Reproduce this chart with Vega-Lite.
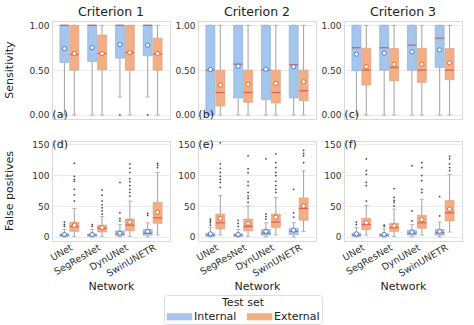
{
  "$schema": "https://vega.github.io/schema/vega-lite/v6.json",
  "padding": {"left": 3, "top": 5, "right": 5, "bottom": 3},
  "datasets": {
    "d": [
      {"kind":"box","metric":"Sensitivity","criterion":"Criterion 1","network":"UNet","test":"Internal","lo":0,"q1":0.585,"median":1,"q3":1,"hi":1,"mean":0.74},
      {"kind":"box","metric":"Sensitivity","criterion":"Criterion 1","network":"UNet","test":"External","lo":0,"q1":0.5,"median":0.674,"q3":1,"hi":1,"mean":0.685},
      {"kind":"box","metric":"Sensitivity","criterion":"Criterion 1","network":"SegResNet","test":"Internal","lo":0,"q1":0.596,"median":1,"q3":1,"hi":1,"mean":0.75},
      {"kind":"box","metric":"Sensitivity","criterion":"Criterion 1","network":"SegResNet","test":"External","lo":0,"q1":0.504,"median":0.685,"q3":0.893,"hi":1,"mean":0.685},
      {"kind":"box","metric":"Sensitivity","criterion":"Criterion 1","network":"DynUNet","test":"Internal","lo":0.2,"q1":0.633,"median":1,"q3":1,"hi":1,"mean":0.785},
      {"kind":"box","metric":"Sensitivity","criterion":"Criterion 1","network":"DynUNet","test":"External","lo":0,"q1":0.5,"median":0.696,"q3":1,"hi":1,"mean":0.696},
      {"kind":"box","metric":"Sensitivity","criterion":"Criterion 1","network":"SwinUNETR","test":"Internal","lo":0.2,"q1":0.66,"median":1,"q3":1,"hi":1,"mean":0.778},
      {"kind":"box","metric":"Sensitivity","criterion":"Criterion 1","network":"SwinUNETR","test":"External","lo":0,"q1":0.5,"median":0.678,"q3":0.856,"hi":1,"mean":0.685},
      {"kind":"box","metric":"Sensitivity","criterion":"Criterion 2","network":"UNet","test":"Internal","lo":0,"q1":0,"median":0.5,"q3":1,"hi":1,"mean":0.507},
      {"kind":"box","metric":"Sensitivity","criterion":"Criterion 2","network":"UNet","test":"External","lo":0,"q1":0.1,"median":0.25,"q3":0.5,"hi":1,"mean":0.333},
      {"kind":"box","metric":"Sensitivity","criterion":"Criterion 2","network":"SegResNet","test":"Internal","lo":0,"q1":0.19,"median":0.567,"q3":1,"hi":1,"mean":0.544},
      {"kind":"box","metric":"Sensitivity","criterion":"Criterion 2","network":"SegResNet","test":"External","lo":0,"q1":0.141,"median":0.25,"q3":0.5,"hi":1,"mean":0.344},
      {"kind":"box","metric":"Sensitivity","criterion":"Criterion 2","network":"DynUNet","test":"Internal","lo":0,"q1":0.17,"median":0.5,"q3":1,"hi":1,"mean":0.51},
      {"kind":"box","metric":"Sensitivity","criterion":"Criterion 2","network":"DynUNet","test":"External","lo":0,"q1":0.133,"median":0.25,"q3":0.5,"hi":1,"mean":0.352},
      {"kind":"box","metric":"Sensitivity","criterion":"Criterion 2","network":"SwinUNETR","test":"Internal","lo":0,"q1":0.19,"median":0.56,"q3":1,"hi":1,"mean":0.537},
      {"kind":"box","metric":"Sensitivity","criterion":"Criterion 2","network":"SwinUNETR","test":"External","lo":0,"q1":0.16,"median":0.27,"q3":0.5,"hi":1,"mean":0.37},
      {"kind":"box","metric":"Sensitivity","criterion":"Criterion 3","network":"UNet","test":"Internal","lo":0,"q1":0.493,"median":0.75,"q3":1,"hi":1,"mean":0.678},
      {"kind":"box","metric":"Sensitivity","criterion":"Criterion 3","network":"UNet","test":"External","lo":0,"q1":0.333,"median":0.5,"q3":0.744,"hi":1,"mean":0.54},
      {"kind":"box","metric":"Sensitivity","criterion":"Criterion 3","network":"SegResNet","test":"Internal","lo":0,"q1":0.5,"median":0.75,"q3":1,"hi":1,"mean":0.689},
      {"kind":"box","metric":"Sensitivity","criterion":"Criterion 3","network":"SegResNet","test":"External","lo":0,"q1":0.381,"median":0.53,"q3":0.74,"hi":1,"mean":0.567},
      {"kind":"box","metric":"Sensitivity","criterion":"Criterion 3","network":"DynUNet","test":"Internal","lo":0,"q1":0.5,"median":0.778,"q3":1,"hi":1,"mean":0.704},
      {"kind":"box","metric":"Sensitivity","criterion":"Criterion 3","network":"DynUNet","test":"External","lo":0,"q1":0.363,"median":0.5,"q3":0.744,"hi":1,"mean":0.567},
      {"kind":"box","metric":"Sensitivity","criterion":"Criterion 3","network":"SwinUNETR","test":"Internal","lo":0,"q1":0.53,"median":0.856,"q3":1,"hi":1,"mean":0.726},
      {"kind":"box","metric":"Sensitivity","criterion":"Criterion 3","network":"SwinUNETR","test":"External","lo":0,"q1":0.393,"median":0.5,"q3":0.74,"hi":1,"mean":0.581},
      {"kind":"out","metric":"Sensitivity","criterion":"Criterion 1","network":"DynUNet","test":"Internal","value":0},
      {"kind":"out","metric":"Sensitivity","criterion":"Criterion 1","network":"SwinUNETR","test":"Internal","value":0},

      {"kind":"box","metric":"False positives","criterion":"Criterion 1","network":"UNet","test":"Internal","lo":0,"q1":1,"median":3,"q3":5,"hi":12,"mean":4},
      {"kind":"box","metric":"False positives","criterion":"Criterion 1","network":"UNet","test":"External","lo":1,"q1":9,"median":17,"q3":24,"hi":46,"mean":19},
      {"kind":"box","metric":"False positives","criterion":"Criterion 1","network":"SegResNet","test":"Internal","lo":0,"q1":1,"median":3,"q3":5,"hi":12,"mean":4},
      {"kind":"box","metric":"False positives","criterion":"Criterion 1","network":"SegResNet","test":"External","lo":1,"q1":8,"median":14,"q3":19,"hi":33,"mean":15},
      {"kind":"box","metric":"False positives","criterion":"Criterion 1","network":"DynUNet","test":"Internal","lo":0,"q1":2,"median":5,"q3":10,"hi":20,"mean":6},
      {"kind":"box","metric":"False positives","criterion":"Criterion 1","network":"DynUNet","test":"External","lo":1,"q1":10,"median":19,"q3":29,"hi":58,"mean":24},
      {"kind":"box","metric":"False positives","criterion":"Criterion 1","network":"SwinUNETR","test":"Internal","lo":0,"q1":3,"median":6,"q3":12,"hi":23,"mean":9},
      {"kind":"box","metric":"False positives","criterion":"Criterion 1","network":"SwinUNETR","test":"External","lo":3,"q1":22,"median":31,"q3":56,"hi":104,"mean":40},
      {"kind":"box","metric":"False positives","criterion":"Criterion 2","network":"UNet","test":"Internal","lo":0,"q1":1,"median":3,"q3":6,"hi":15,"mean":5},
      {"kind":"box","metric":"False positives","criterion":"Criterion 2","network":"UNet","test":"External","lo":3,"q1":13,"median":23,"q3":37,"hi":67,"mean":30},
      {"kind":"box","metric":"False positives","criterion":"Criterion 2","network":"SegResNet","test":"Internal","lo":0,"q1":1,"median":3,"q3":5,"hi":12,"mean":4},
      {"kind":"box","metric":"False positives","criterion":"Criterion 2","network":"SegResNet","test":"External","lo":1,"q1":10,"median":17,"q3":29,"hi":50,"mean":22},
      {"kind":"box","metric":"False positives","criterion":"Criterion 2","network":"DynUNet","test":"Internal","lo":0,"q1":3,"median":6,"q3":12,"hi":23,"mean":9},
      {"kind":"box","metric":"False positives","criterion":"Criterion 2","network":"DynUNet","test":"External","lo":3,"q1":15,"median":24,"q3":37,"hi":64,"mean":32},
      {"kind":"box","metric":"False positives","criterion":"Criterion 2","network":"SwinUNETR","test":"Internal","lo":0,"q1":4,"median":9,"q3":14,"hi":23,"mean":11},
      {"kind":"box","metric":"False positives","criterion":"Criterion 2","network":"SwinUNETR","test":"External","lo":9,"q1":27,"median":46,"q3":63,"hi":107,"mean":50},
      {"kind":"box","metric":"False positives","criterion":"Criterion 3","network":"UNet","test":"Internal","lo":0,"q1":1,"median":3,"q3":6,"hi":15,"mean":5},
      {"kind":"box","metric":"False positives","criterion":"Criterion 3","network":"UNet","test":"External","lo":3,"q1":12,"median":20,"q3":30,"hi":51,"mean":23},
      {"kind":"box","metric":"False positives","criterion":"Criterion 3","network":"SegResNet","test":"Internal","lo":0,"q1":1,"median":3,"q3":5,"hi":13,"mean":4},
      {"kind":"box","metric":"False positives","criterion":"Criterion 3","network":"SegResNet","test":"External","lo":1,"q1":9,"median":15,"q3":22,"hi":45,"mean":18},
      {"kind":"box","metric":"False positives","criterion":"Criterion 3","network":"DynUNet","test":"Internal","lo":0,"q1":3,"median":6,"q3":11,"hi":20,"mean":8},
      {"kind":"box","metric":"False positives","criterion":"Criterion 3","network":"DynUNet","test":"External","lo":3,"q1":14,"median":23,"q3":35,"hi":61,"mean":28},
      {"kind":"box","metric":"False positives","criterion":"Criterion 3","network":"SwinUNETR","test":"Internal","lo":0,"q1":3,"median":7,"q3":12,"hi":24,"mean":9},
      {"kind":"box","metric":"False positives","criterion":"Criterion 3","network":"SwinUNETR","test":"External","lo":8,"q1":26,"median":39,"q3":59,"hi":101,"mean":45},

      {"kind":"out","metric":"False positives","criterion":"Criterion 1","network":"UNet","test":"Internal","value":17},
      {"kind":"out","metric":"False positives","criterion":"Criterion 1","network":"UNet","test":"Internal","value":20},
      {"kind":"out","metric":"False positives","criterion":"Criterion 1","network":"UNet","test":"Internal","value":24},
      {"kind":"out","metric":"False positives","criterion":"Criterion 1","network":"UNet","test":"External","value":58},
      {"kind":"out","metric":"False positives","criterion":"Criterion 1","network":"UNet","test":"External","value":68},
      {"kind":"out","metric":"False positives","criterion":"Criterion 1","network":"UNet","test":"External","value":77},
      {"kind":"out","metric":"False positives","criterion":"Criterion 1","network":"UNet","test":"External","value":90},
      {"kind":"out","metric":"False positives","criterion":"Criterion 1","network":"UNet","test":"External","value":93},
      {"kind":"out","metric":"False positives","criterion":"Criterion 1","network":"UNet","test":"External","value":98},
      {"kind":"out","metric":"False positives","criterion":"Criterion 1","network":"UNet","test":"External","value":119},
      {"kind":"out","metric":"False positives","criterion":"Criterion 1","network":"SegResNet","test":"Internal","value":17},
      {"kind":"out","metric":"False positives","criterion":"Criterion 1","network":"SegResNet","test":"Internal","value":20},
      {"kind":"out","metric":"False positives","criterion":"Criterion 1","network":"SegResNet","test":"External","value":37},
      {"kind":"out","metric":"False positives","criterion":"Criterion 1","network":"SegResNet","test":"External","value":42},
      {"kind":"out","metric":"False positives","criterion":"Criterion 1","network":"SegResNet","test":"External","value":47},
      {"kind":"out","metric":"False positives","criterion":"Criterion 1","network":"SegResNet","test":"External","value":52},
      {"kind":"out","metric":"False positives","criterion":"Criterion 1","network":"SegResNet","test":"External","value":58},
      {"kind":"out","metric":"False positives","criterion":"Criterion 1","network":"SegResNet","test":"External","value":67},
      {"kind":"out","metric":"False positives","criterion":"Criterion 1","network":"SegResNet","test":"External","value":76},
      {"kind":"out","metric":"False positives","criterion":"Criterion 1","network":"DynUNet","test":"Internal","value":26},
      {"kind":"out","metric":"False positives","criterion":"Criterion 1","network":"DynUNet","test":"Internal","value":30},
      {"kind":"out","metric":"False positives","criterion":"Criterion 1","network":"DynUNet","test":"Internal","value":39},
      {"kind":"out","metric":"False positives","criterion":"Criterion 1","network":"DynUNet","test":"Internal","value":88},
      {"kind":"out","metric":"False positives","criterion":"Criterion 1","network":"DynUNet","test":"External","value":66},
      {"kind":"out","metric":"False positives","criterion":"Criterion 1","network":"DynUNet","test":"External","value":72},
      {"kind":"out","metric":"False positives","criterion":"Criterion 1","network":"DynUNet","test":"External","value":77},
      {"kind":"out","metric":"False positives","criterion":"Criterion 1","network":"DynUNet","test":"External","value":83},
      {"kind":"out","metric":"False positives","criterion":"Criterion 1","network":"DynUNet","test":"External","value":89},
      {"kind":"out","metric":"False positives","criterion":"Criterion 1","network":"DynUNet","test":"External","value":94},
      {"kind":"out","metric":"False positives","criterion":"Criterion 1","network":"DynUNet","test":"External","value":104},
      {"kind":"out","metric":"False positives","criterion":"Criterion 1","network":"DynUNet","test":"External","value":111},
      {"kind":"out","metric":"False positives","criterion":"Criterion 1","network":"DynUNet","test":"External","value":118},
      {"kind":"out","metric":"False positives","criterion":"Criterion 1","network":"SwinUNETR","test":"Internal","value":35},
      {"kind":"out","metric":"False positives","criterion":"Criterion 1","network":"SwinUNETR","test":"Internal","value":38},
      {"kind":"out","metric":"False positives","criterion":"Criterion 1","network":"SwinUNETR","test":"External","value":112},
      {"kind":"out","metric":"False positives","criterion":"Criterion 1","network":"SwinUNETR","test":"External","value":116},
      {"kind":"out","metric":"False positives","criterion":"Criterion 1","network":"SwinUNETR","test":"External","value":119},

      {"kind":"out","metric":"False positives","criterion":"Criterion 2","network":"UNet","test":"Internal","value":19},
      {"kind":"out","metric":"False positives","criterion":"Criterion 2","network":"UNet","test":"Internal","value":23},
      {"kind":"out","metric":"False positives","criterion":"Criterion 2","network":"UNet","test":"Internal","value":26},
      {"kind":"out","metric":"False positives","criterion":"Criterion 2","network":"UNet","test":"Internal","value":29},
      {"kind":"out","metric":"False positives","criterion":"Criterion 2","network":"UNet","test":"External","value":80},
      {"kind":"out","metric":"False positives","criterion":"Criterion 2","network":"UNet","test":"External","value":88},
      {"kind":"out","metric":"False positives","criterion":"Criterion 2","network":"UNet","test":"External","value":93},
      {"kind":"out","metric":"False positives","criterion":"Criterion 2","network":"UNet","test":"External","value":98},
      {"kind":"out","metric":"False positives","criterion":"Criterion 2","network":"UNet","test":"External","value":104},
      {"kind":"out","metric":"False positives","criterion":"Criterion 2","network":"UNet","test":"External","value":111},
      {"kind":"out","metric":"False positives","criterion":"Criterion 2","network":"UNet","test":"External","value":118},
      {"kind":"out","metric":"False positives","criterion":"Criterion 2","network":"UNet","test":"External","value":152},
      {"kind":"out","metric":"False positives","criterion":"Criterion 2","network":"SegResNet","test":"Internal","value":17},
      {"kind":"out","metric":"False positives","criterion":"Criterion 2","network":"SegResNet","test":"Internal","value":22},
      {"kind":"out","metric":"False positives","criterion":"Criterion 2","network":"SegResNet","test":"Internal","value":27},
      {"kind":"out","metric":"False positives","criterion":"Criterion 2","network":"SegResNet","test":"External","value":56},
      {"kind":"out","metric":"False positives","criterion":"Criterion 2","network":"SegResNet","test":"External","value":62},
      {"kind":"out","metric":"False positives","criterion":"Criterion 2","network":"SegResNet","test":"External","value":66},
      {"kind":"out","metric":"False positives","criterion":"Criterion 2","network":"SegResNet","test":"External","value":72},
      {"kind":"out","metric":"False positives","criterion":"Criterion 2","network":"SegResNet","test":"External","value":83},
      {"kind":"out","metric":"False positives","criterion":"Criterion 2","network":"SegResNet","test":"External","value":89},
      {"kind":"out","metric":"False positives","criterion":"Criterion 2","network":"SegResNet","test":"External","value":104},
      {"kind":"out","metric":"False positives","criterion":"Criterion 2","network":"SegResNet","test":"External","value":110},
      {"kind":"out","metric":"False positives","criterion":"Criterion 2","network":"SegResNet","test":"External","value":131},
      {"kind":"out","metric":"False positives","criterion":"Criterion 2","network":"DynUNet","test":"Internal","value":29},
      {"kind":"out","metric":"False positives","criterion":"Criterion 2","network":"DynUNet","test":"Internal","value":33},
      {"kind":"out","metric":"False positives","criterion":"Criterion 2","network":"DynUNet","test":"Internal","value":37},
      {"kind":"out","metric":"False positives","criterion":"Criterion 2","network":"DynUNet","test":"Internal","value":126},
      {"kind":"out","metric":"False positives","criterion":"Criterion 2","network":"DynUNet","test":"External","value":72},
      {"kind":"out","metric":"False positives","criterion":"Criterion 2","network":"DynUNet","test":"External","value":77},
      {"kind":"out","metric":"False positives","criterion":"Criterion 2","network":"DynUNet","test":"External","value":83},
      {"kind":"out","metric":"False positives","criterion":"Criterion 2","network":"DynUNet","test":"External","value":90},
      {"kind":"out","metric":"False positives","criterion":"Criterion 2","network":"DynUNet","test":"External","value":99},
      {"kind":"out","metric":"False positives","criterion":"Criterion 2","network":"DynUNet","test":"External","value":104},
      {"kind":"out","metric":"False positives","criterion":"Criterion 2","network":"DynUNet","test":"External","value":112},
      {"kind":"out","metric":"False positives","criterion":"Criterion 2","network":"DynUNet","test":"External","value":120},
      {"kind":"out","metric":"False positives","criterion":"Criterion 2","network":"DynUNet","test":"External","value":134},
      {"kind":"out","metric":"False positives","criterion":"Criterion 2","network":"SwinUNETR","test":"Internal","value":32},
      {"kind":"out","metric":"False positives","criterion":"Criterion 2","network":"SwinUNETR","test":"Internal","value":39},
      {"kind":"out","metric":"False positives","criterion":"Criterion 2","network":"SwinUNETR","test":"Internal","value":77},
      {"kind":"out","metric":"False positives","criterion":"Criterion 2","network":"SwinUNETR","test":"External","value":120},
      {"kind":"out","metric":"False positives","criterion":"Criterion 2","network":"SwinUNETR","test":"External","value":131},
      {"kind":"out","metric":"False positives","criterion":"Criterion 2","network":"SwinUNETR","test":"External","value":135},
      {"kind":"out","metric":"False positives","criterion":"Criterion 2","network":"SwinUNETR","test":"External","value":140},

      {"kind":"out","metric":"False positives","criterion":"Criterion 3","network":"UNet","test":"Internal","value":20},
      {"kind":"out","metric":"False positives","criterion":"Criterion 3","network":"UNet","test":"Internal","value":24},
      {"kind":"out","metric":"False positives","criterion":"Criterion 3","network":"UNet","test":"External","value":58},
      {"kind":"out","metric":"False positives","criterion":"Criterion 3","network":"UNet","test":"External","value":83},
      {"kind":"out","metric":"False positives","criterion":"Criterion 3","network":"UNet","test":"External","value":88},
      {"kind":"out","metric":"False positives","criterion":"Criterion 3","network":"UNet","test":"External","value":101},
      {"kind":"out","metric":"False positives","criterion":"Criterion 3","network":"UNet","test":"External","value":107},
      {"kind":"out","metric":"False positives","criterion":"Criterion 3","network":"UNet","test":"External","value":126},
      {"kind":"out","metric":"False positives","criterion":"Criterion 3","network":"SegResNet","test":"Internal","value":17},
      {"kind":"out","metric":"False positives","criterion":"Criterion 3","network":"SegResNet","test":"Internal","value":19},
      {"kind":"out","metric":"False positives","criterion":"Criterion 3","network":"SegResNet","test":"External","value":50},
      {"kind":"out","metric":"False positives","criterion":"Criterion 3","network":"SegResNet","test":"External","value":56},
      {"kind":"out","metric":"False positives","criterion":"Criterion 3","network":"SegResNet","test":"External","value":59},
      {"kind":"out","metric":"False positives","criterion":"Criterion 3","network":"SegResNet","test":"External","value":64},
      {"kind":"out","metric":"False positives","criterion":"Criterion 3","network":"SegResNet","test":"External","value":78},
      {"kind":"out","metric":"False positives","criterion":"Criterion 3","network":"DynUNet","test":"Internal","value":26},
      {"kind":"out","metric":"False positives","criterion":"Criterion 3","network":"DynUNet","test":"Internal","value":42},
      {"kind":"out","metric":"False positives","criterion":"Criterion 3","network":"DynUNet","test":"Internal","value":115},
      {"kind":"out","metric":"False positives","criterion":"Criterion 3","network":"DynUNet","test":"External","value":72},
      {"kind":"out","metric":"False positives","criterion":"Criterion 3","network":"DynUNet","test":"External","value":77},
      {"kind":"out","metric":"False positives","criterion":"Criterion 3","network":"DynUNet","test":"External","value":91},
      {"kind":"out","metric":"False positives","criterion":"Criterion 3","network":"DynUNet","test":"External","value":99},
      {"kind":"out","metric":"False positives","criterion":"Criterion 3","network":"DynUNet","test":"External","value":112},
      {"kind":"out","metric":"False positives","criterion":"Criterion 3","network":"DynUNet","test":"External","value":120},
      {"kind":"out","metric":"False positives","criterion":"Criterion 3","network":"SwinUNETR","test":"Internal","value":34},
      {"kind":"out","metric":"False positives","criterion":"Criterion 3","network":"SwinUNETR","test":"Internal","value":65},
      {"kind":"out","metric":"False positives","criterion":"Criterion 3","network":"SwinUNETR","test":"External","value":107},
      {"kind":"out","metric":"False positives","criterion":"Criterion 3","network":"SwinUNETR","test":"External","value":112},
      {"kind":"out","metric":"False positives","criterion":"Criterion 3","network":"SwinUNETR","test":"External","value":118},
      {"kind":"out","metric":"False positives","criterion":"Criterion 3","network":"SwinUNETR","test":"External","value":126},
      {"kind":"out","metric":"False positives","criterion":"Criterion 3","network":"SwinUNETR","test":"External","value":130},

      {"kind":"lab","metric":"Sensitivity","criterion":"Criterion 1","label":"(a)"},
      {"kind":"lab","metric":"Sensitivity","criterion":"Criterion 2","label":"(b)"},
      {"kind":"lab","metric":"Sensitivity","criterion":"Criterion 3","label":"(c)"},
      {"kind":"lab","metric":"False positives","criterion":"Criterion 1","label":"(d)"},
      {"kind":"lab","metric":"False positives","criterion":"Criterion 2","label":"(e)"},
      {"kind":"lab","metric":"False positives","criterion":"Criterion 3","label":"(f)"}
    ]
  },
  "data": {"name": "d"},
  "spacing": 17,
  "vconcat": [
    {
      "transform": [{"filter": "datum.metric == 'Sensitivity'"}],
      "facet": {
        "row": {"field": "metric", "type": "nominal", "header": {"title": null, "labelAngle": -90, "labelOrient": "left", "labelFontSize": 11, "labelPadding": 2, "labelAlign": "center", "labelBaseline": "bottom"}},
        "column": {"field": "criterion", "type": "nominal", "header": {"title": null, "labelFontSize": 12.5, "labelPadding": 2}}
      },
      "spacing": {"column": 3, "row": 0},
      "resolve": {"axis": {"y": "independent"}},
      "spec": {
        "width": 118, "height": 98,
        "layer": [
          {
            "transform": [{"filter": "datum.kind == 'box'"}],
            "encoding": {
              "x": {"field": "network", "type": "nominal", "sort": ["UNet","SegResNet","DynUNet","SwinUNETR"], "scale": {"paddingInner": 0.2, "paddingOuter": 0.225}, "axis": null},
              "xOffset": {"field": "test", "type": "nominal", "sort": ["Internal","External"], "scale": {"paddingInner": 0, "paddingOuter": 0.12}}
            },
            "layer": [
              {"mark": {"type": "rule", "color": "#a0a0a0", "strokeWidth": 1}, "encoding": {"y": {"field": "lo", "type": "quantitative", "title": null, "scale": {"domain": [-0.045, 1.048], "nice": false, "zero": false}, "axis": {"values": [0, 0.25, 0.5, 0.75, 1], "format": ".2f", "grid": true, "minExtent": 23, "maxExtent": 23, "labelPadding": 3, "labelOverlap": false}}, "y2": {"field": "q1"}}},
              {"mark": {"type": "rule", "color": "#a0a0a0", "strokeWidth": 1}, "encoding": {"y": {"field": "q3", "type": "quantitative", "title": null}, "y2": {"field": "hi"}}},
              {"mark": {"type": "tick", "color": "#a0a0a0", "size": 4.5, "thickness": 1}, "encoding": {"y": {"field": "lo", "type": "quantitative", "title": null}}},
              {"mark": {"type": "tick", "color": "#a0a0a0", "size": 4.5, "thickness": 1}, "encoding": {"y": {"field": "hi", "type": "quantitative", "title": null}}},
              {"mark": {"type": "bar", "size": 9, "strokeWidth": 0.6}, "encoding": {
                "y": {"field": "q1", "type": "quantitative", "title": null}, "y2": {"field": "q3"},
                "color": {"field": "test", "type": "nominal", "scale": {"domain": ["Internal","External"], "range": ["#a4c6ec", "#f3ae85"]}, "legend": {"title": "Test set", "orient": "none", "legendX": 112, "legendY": 274, "direction": "horizontal"}},
                "stroke": {"condition": {"test": "datum.test == 'Internal'", "value": "#86a9d6"}, "value": "#d99a75"}
              }},
              {"mark": {"type": "tick", "color": "#d2404a", "size": 9, "thickness": 1.3}, "encoding": {"y": {"field": "median", "type": "quantitative", "title": null}}},
              {"mark": {"type": "point", "shape": "circle", "filled": true, "fill": "white", "size": 18, "strokeWidth": 1, "opacity": 1}, "encoding": {"y": {"field": "mean", "type": "quantitative", "title": null}, "stroke": {"condition": {"test": "datum.test == 'Internal'", "value": "#4a7ec8"}, "value": "#dd6e35"}}}
            ]
          },
          {
            "transform": [{"filter": "datum.kind == 'out'"}],
            "mark": {"type": "point", "shape": "diamond", "filled": true, "color": "#4a4a4a", "size": 5, "opacity": 1},
            "encoding": {
              "x": {"field": "network", "type": "nominal", "sort": ["UNet","SegResNet","DynUNet","SwinUNETR"], "axis": null},
              "xOffset": {"field": "test", "type": "nominal", "sort": ["Internal","External"]},
              "y": {"field": "value", "type": "quantitative", "title": null}
            }
          },
          {
            "transform": [{"filter": "datum.kind == 'lab'"}],
            "mark": {"type": "text", "align": "left", "baseline": "middle", "dx": -17, "fontSize": 11, "color": "#222"},
            "encoding": {
              "x": {"datum": "UNet", "type": "nominal"},
              "y": {"datum": 0, "type": "quantitative"},
              "text": {"field": "label"}
            }
          }
        ]
      }
    },
    {
      "transform": [{"filter": "datum.metric == 'False positives'"}],
      "facet": {
        "row": {"field": "metric", "type": "nominal", "header": {"title": null, "labelAngle": -90, "labelOrient": "left", "labelFontSize": 11, "labelPadding": 2, "labelAlign": "center", "labelBaseline": "bottom"}},
        "column": {"field": "criterion", "type": "nominal", "header": {"title": null, "labels": false}}
      },
      "spacing": {"column": 3, "row": 0},
      "resolve": {"axis": {"y": "independent", "x": "independent"}},
      "spec": {
        "width": 118, "height": 100,
        "layer": [
          {
            "transform": [{"filter": "datum.kind == 'box'"}],
            "encoding": {
              "x": {"field": "network", "type": "nominal", "sort": ["UNet","SegResNet","DynUNet","SwinUNETR"], "scale": {"paddingInner": 0.2, "paddingOuter": 0.225}, "title": "Network", "axis": {"labelAngle": -30, "labelAlign": "right", "labelBaseline": "top", "grid": false, "labelPadding": 1, "titlePadding": 3, "labelFontSize": 9.5}},
              "xOffset": {"field": "test", "type": "nominal", "sort": ["Internal","External"], "scale": {"paddingInner": 0, "paddingOuter": 0.12}}
            },
            "layer": [
              {"mark": {"type": "rule", "color": "#a0a0a0", "strokeWidth": 1}, "encoding": {"y": {"field": "lo", "type": "quantitative", "title": null, "scale": {"domain": [-6.5, 155], "nice": false, "zero": false}, "axis": {"tickCount": 4, "grid": true, "minExtent": 23, "maxExtent": 23, "labelPadding": 3, "labelOverlap": false, "labelFlush": false}}, "y2": {"field": "q1"}}},
              {"mark": {"type": "rule", "color": "#a0a0a0", "strokeWidth": 1}, "encoding": {"y": {"field": "q3", "type": "quantitative", "title": null}, "y2": {"field": "hi"}}},
              {"mark": {"type": "tick", "color": "#a0a0a0", "size": 4.5, "thickness": 1}, "encoding": {"y": {"field": "lo", "type": "quantitative", "title": null}}},
              {"mark": {"type": "tick", "color": "#a0a0a0", "size": 4.5, "thickness": 1}, "encoding": {"y": {"field": "hi", "type": "quantitative", "title": null}}},
              {"mark": {"type": "bar", "size": 9, "strokeWidth": 0.6}, "encoding": {
                "y": {"field": "q1", "type": "quantitative", "title": null}, "y2": {"field": "q3"},
                "color": {"field": "test", "type": "nominal", "scale": {"domain": ["Internal","External"], "range": ["#a4c6ec", "#f3ae85"]}, "legend": {"title": "Test set", "orient": "none", "legendX": 112, "legendY": 274, "direction": "horizontal"}},
                "stroke": {"condition": {"test": "datum.test == 'Internal'", "value": "#86a9d6"}, "value": "#d99a75"}
              }},
              {"mark": {"type": "tick", "color": "#d2404a", "size": 9, "thickness": 1.3}, "encoding": {"y": {"field": "median", "type": "quantitative", "title": null}}},
              {"mark": {"type": "point", "shape": "circle", "filled": true, "fill": "white", "size": 18, "strokeWidth": 1, "opacity": 1}, "encoding": {"y": {"field": "mean", "type": "quantitative", "title": null}, "stroke": {"condition": {"test": "datum.test == 'Internal'", "value": "#4a7ec8"}, "value": "#dd6e35"}}}
            ]
          },
          {
            "transform": [{"filter": "datum.kind == 'out'"}],
            "mark": {"type": "point", "shape": "diamond", "filled": true, "color": "#4a4a4a", "size": 5, "opacity": 1},
            "encoding": {
              "x": {"field": "network", "type": "nominal", "sort": ["UNet","SegResNet","DynUNet","SwinUNETR"]},
              "xOffset": {"field": "test", "type": "nominal", "sort": ["Internal","External"]},
              "y": {"field": "value", "type": "quantitative", "title": null}
            }
          },
          {
            "transform": [{"filter": "datum.kind == 'lab'"}],
            "mark": {"type": "text", "align": "left", "baseline": "middle", "dx": -17, "dy": 1, "fontSize": 11, "color": "#222"},
            "encoding": {
              "x": {"datum": "UNet", "type": "nominal"},
              "y": {"datum": 150, "type": "quantitative"},
              "text": {"field": "label"}
            }
          }
        ]
      }
    }
  ],
  "config": {
    "font": "DejaVu Sans",
    "view": {"stroke": "#d9d9d9", "strokeWidth": 1},
    "axis": {"labelColor": "#333333", "titleColor": "#222222", "labelFontSize": 9, "titleFontSize": 11, "titleFontWeight": "normal", "gridColor": "#ebebeb", "ticks": false, "domain": false},
    "header": {"labelColor": "#222222"},
    "legend": {"titleAnchor": "middle", "titleFontSize": 11, "titleFontWeight": "normal", "titleColor": "#222222", "labelFontSize": 11, "labelColor": "#222222", "symbolType": "M-1.8,-0.5H1.8V0.5H-1.8Z", "symbolSize": 200, "symbolStrokeWidth": 0, "symbolOffset": 6, "strokeColor": "#dddddd", "padding": 2, "cornerRadius": 3, "columnPadding": 9, "labelOffset": 7, "titlePadding": 1, "fillColor": "white"}
  }
}
